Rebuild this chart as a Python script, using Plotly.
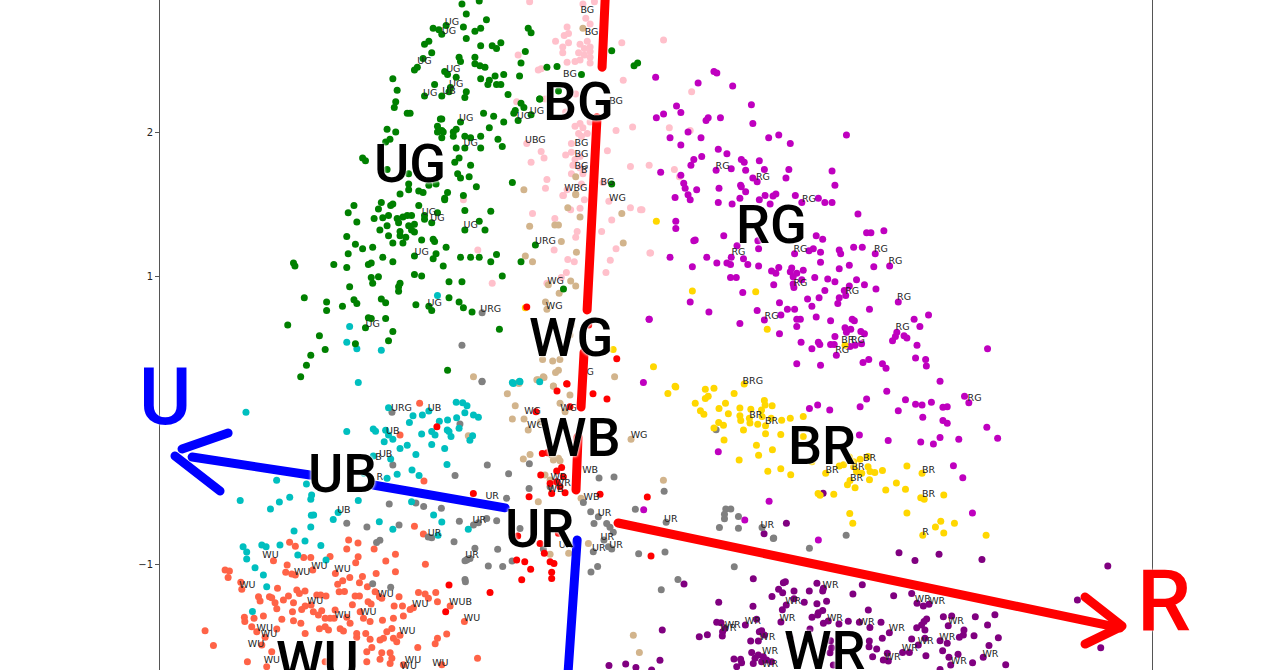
import plotly.graph_objects as go

UG = [(-0.82,2.89),(-0.70,2.91),(-0.79,2.82),(-0.65,2.78),(-0.93,2.74),(-1.02,2.72),(-0.98,2.71),(-0.96,2.68),(-0.81,2.73),(-0.73,2.70),(-0.69,2.72),(-0.79,2.65),(-1.05,2.63),(-1.08,2.61),(-0.69,2.60),(-0.61,2.60),(-0.58,2.58),(-0.55,2.62),(-0.36,2.72),(-0.34,2.69),(-0.38,2.56),(-0.41,2.48),(-0.42,2.39),(-0.23,2.45),(-1.03,2.55),(-1.09,2.51),(-0.84,2.52),(-0.83,2.49),(-0.73,2.52),(-0.73,2.475),(-0.695,2.46),(-0.66,2.45),(-1.13,2.45),(-1.15,2.43),(-0.94,2.42),(-0.92,2.40),(-0.86,2.38),(-0.69,2.37),(-0.59,2.39),(-0.53,2.40),(-0.63,2.36),(-0.64,2.33),(-0.58,2.33),(-0.55,2.33),(-0.50,2.26),(-1.30,2.37),(-1.27,2.29),(-1.01,2.33),(-0.90,2.31),(-0.91,2.28),(-0.79,2.28),(-0.80,2.24),(-1.08,2.25),(-0.96,2.25),(-1.28,2.21),(-1.29,2.17),(-1.20,2.13),(-1.18,2.13),(-0.28,2.23),(-0.41,2.20),(-0.39,2.17),(-0.45,2.15),(-0.46,2.13),(-0.43,2.08),(-0.34,2.12),(-0.67,2.13),(-0.60,2.11),(-0.53,2.07),(-0.63,2.03),(-0.97,2.09),(-0.96,2.09),(-0.83,2.07),(-1.34,2.02),(-1.28,2.00),(-0.99,2.04),(-0.96,2.01),(-0.86,2.02),(-0.88,2.00),(-0.99,2.00),(-0.95,2.00),(-0.80,1.97),(-0.76,1.96),(-0.69,1.97),(-0.57,1.95),(-0.96,1.96),(-0.88,1.97),(-1.32,1.95),(-1.35,1.93),(-0.54,1.90),(-0.69,1.89),(-0.86,1.89),(-0.80,1.89),(-1.51,1.82),(-1.49,1.80),(-0.84,1.82),(-0.87,1.79),(-0.76,1.77),(-1.34,1.74),(-0.85,1.71),(-0.83,1.68),(-0.77,1.69),(-1.19,1.71),(-0.72,1.62),(-0.47,1.65),(-1.05,1.63),(-1.00,1.64),(-1.19,1.64),(-1.19,1.60),(-1.12,1.59),(-1.09,1.58),(-1.25,1.57),(-0.92,1.58),(-0.81,1.56),(-0.94,1.54),(-1.57,1.49),(-1.61,1.44),(-1.55,1.375),(-1.38,1.51),(-1.40,1.465),(-1.30,1.50),(-1.315,1.49),(-1.43,1.40),(-1.37,1.405),(-1.33,1.42),(-1.27,1.40),(-1.26,1.37),(-1.23,1.41),(-1.20,1.42),(-1.17,1.42),(-1.12,1.49),(-1.08,1.42),(-1.08,1.395),(-1.03,1.37),(-0.99,1.44),(-1.34,1.35),(-1.39,1.32),(-1.19,1.35),(-1.15,1.36),(-1.17,1.32),(-1.15,1.305),(-1.25,1.31),(-1.25,1.28),(-1.21,1.27),(-1.33,1.28),(-1.62,1.275),(-1.56,1.22),(-1.51,1.19),(-1.44,1.20),(-1.30,1.23),(-1.23,1.23),(-1.10,1.25),(-1.02,1.255),(-1.01,1.24),(-0.93,1.20),(-1.61,1.155),(-1.37,1.13),(-1.30,1.10),(-1.15,1.14),(-1.00,1.155),(-1.02,1.12),(-0.95,1.07),(-1.71,1.08),(-1.99,1.09),(-1.98,1.07),(-1.62,1.06),(-1.47,1.08),(-1.45,1.09),(-0.83,1.13),(-0.76,1.13),(-0.70,1.13),(-0.62,1.10),(-0.58,1.15),(-0.41,1.10),(-0.54,1.00),(-1.15,1.01),(-1.10,1.00),(-1.45,0.99),(-1.40,0.995),(-1.44,0.95),(-1.25,0.95),(-1.26,0.925),(-1.26,0.895),(-1.60,0.925),(-0.91,0.96),(-0.82,0.96),(-1.915,0.85),(-1.76,0.82),(-1.76,0.76),(-1.65,0.79),(-1.57,0.835),(-1.55,0.81),(-1.38,0.84),(-1.35,0.815),(-1.14,0.80),(-1.05,0.79),(-1.03,0.76),(-0.91,0.85),(-0.84,0.82),(-0.81,0.78),(-0.75,0.75),(-1.47,0.71),(-1.45,0.705),(-1.35,0.705),(-1.49,0.64),(-2.03,0.66),(-1.30,0.615),(-1.81,0.585),(-1.33,0.55),(-1.56,0.53),(-1.77,0.49),(-1.87,0.45),(-1.90,0.38),(-1.94,0.30),(-0.92,0.345),(-0.56,0.63),(-0.80,1.455),(-0.62,1.45),(-0.70,1.38),(-0.80,1.32),(-0.66,1.32),(-0.94,1.53),(-0.31,1.215),(0.375,2.46),(0.40,2.48),(0.22,2.565),(0.01,2.40),(-0.16,2.456),(-0.28,2.23),(0.22,1.64),(-0.15,2.285),(-0.115,0.91)]

BG = [(-0.35,2.905),(0.02,2.89),(0.10,2.905),(0.04,2.79),(0.07,2.75),(-0.09,2.73),(-0.08,2.685),(-0.11,2.67),(-0.17,2.63),(-0.08,2.62),(0,2.61),(-0.12,2.59),(0.05,2.63),(0.07,2.59),(0.03,2.58),(-0.12,2.55),(-0.01,2.55),(0.03,2.535),(0.07,2.52),(0.07,2.56),(0,2.50),(-0.035,2.49),(-0.09,2.485),(0.07,2.48),(-0.27,2.44),(-0.29,2.43),(-0.03,2.265),(-0.43,2.535),(0.29,2.62),(0.58,2.64),(0.30,2.36),(-0.44,2.21),(-0.24,2.23),(-0.10,2.14),(0,2.06),(-0.035,2.04),(0.02,2.03),(0.07,2.07),(-0.01,1.99),(0.01,1.97),(0.05,1.99),(-0.06,1.92),(0.365,2.035),(0.25,2.01),(-0.37,1.92),(-0.27,1.865),(-0.25,1.82),(-0.34,1.79),(-0.10,1.84),(-0.06,1.86),(-0.035,1.81),(0,1.83),(0.19,1.87),(-0.05,1.77),(0,1.75),(0.02,1.71),(0.35,1.76),(-0.06,1.71),(-0.23,1.67),(-0.24,1.61),(-0.12,1.56),(-0.09,1.60),(0.16,1.65),(0.01,1.64),(-0.81,1.53),(-0.33,1.435),(-0.71,1.18),(-0.61,0.95),(-0.23,0.95),(-0.115,1.56),(-0.065,1.46),(0,1.47),(0.03,1.53),(0.20,1.52),(0.35,1.475),(0.42,1.46),(0.22,1.39),(-0.175,1.40),(-0.02,1.31),(-0.03,1.27),(0.15,1.31),(-0.18,1.18),(0.25,1.19),(-0.085,1.115),(-0.04,1.10),(0.21,1.11),(-0.095,1.025),(0.18,1.025),(-0.13,0.99),(0.775,2.28),(0.62,2.03),(0.765,2.01),(0.48,1.77),(0.655,1.74),(0.69,1.69),(0.43,1.46),(0.485,1.16),(0.49,1.16)]

RG = [(0.525,2.38),(0.93,2.42),(0.95,2.41),(0.82,2.34),(1.06,2.32),(1.19,2.19),(1.20,2.06),(0.67,2.18),(0.58,2.125),(0.70,2.135),(0.53,2.10),(0.875,2.08),(0.89,2.10),(0.975,2.10),(0.75,2.00),(0.625,1.96),(0.84,1.96),(0.70,1.91),(1.31,1.96),(1.38,1.98),(1.46,1.92),(1.85,1.98),(0.96,1.88),(1.02,1.85),(0.845,1.83),(0.79,1.81),(0.77,1.77),(1.12,1.81),(1.14,1.79),(1.245,1.80),(1.28,1.74),(1.45,1.74),(1.75,1.73),(0.945,1.735),(1.05,1.745),(1.15,1.735),(0.56,1.72),(0.70,1.70),(1.20,1.68),(1.23,1.655),(1.43,1.68),(1.77,1.63),(0.72,1.645),(0.73,1.61),(0.81,1.60),(0.965,1.61),(1.115,1.63),(1.12,1.62),(1.15,1.585),(0.75,1.565),(0.66,1.545),(0.765,1.53),(1.11,1.54),(1.285,1.56),(1.34,1.555),(1.36,1.57),(1.495,1.56),(0.96,1.51),(1.056,1.50),(1.245,1.53),(1.32,1.50),(1.54,1.51),(1.655,1.54),(1.70,1.51),(1.75,1.51),(1.93,1.43),(0.665,1.38),(0.665,1.33),(0.998,1.28),(0.80,1.25),(0.79,1.245),(1.09,1.21),(1.235,1.245),(1.24,1.19),(1.64,1.28),(1.685,1.255),(1.99,1.30),(2.02,1.30),(2.11,1.315),(1.49,1.155),(1.59,1.175),(1.62,1.19),(1.67,1.165),(1.80,1.18),(1.81,1.155),(1.90,1.20),(1.96,1.20),(2.05,1.155),(2.15,1.07),(0.625,1.13),(0.88,1.13),(0.95,1.09),(1.02,1.09),(1.045,1.08),(1.05,1.13),(1.135,1.12),(1.165,1.08),(0.78,1.065),(1.24,1.07),(1.33,1.035),(1.36,1.02),(1.38,1.06),(1.47,1.055),(1.46,1.03),(1.48,0.995),(1.505,1.02),(1.55,1.04),(1.67,1.095),(1.80,1.05),(1.87,1.075),(2.04,1.065),(1.045,0.99),(1.085,0.99),(1.63,0.99),(1.72,0.98),(1.77,0.96),(1.92,0.975),(1.54,0.975),(1.345,0.94),(1.48,0.945),(1.485,0.92),(1.70,0.90),(1.87,0.93),(1.975,0.94),(2.055,0.91),(1.835,0.90),(1.845,0.865),(1.13,0.885),(1.58,0.84),(1.66,0.85),(1.80,0.85),(1.79,0.81),(2.21,0.82),(0.765,0.82),(1.385,0.815),(1.61,0.79),(2.01,0.77),(0.895,0.75),(1.23,0.76),(1.44,0.77),(1.49,0.77),(1.395,0.73),(2.42,0.73),(0.48,0.70),(1.28,0.695),(1.505,0.70),(1.53,0.70),(1.64,0.715),(1.74,0.69),(1.89,0.70),(1.905,0.69),(2.32,0.70),(1.11,0.67),(1.505,0.65),(1.84,0.64),(2.36,0.65),(1.85,0.61),(1.88,0.63),(1.95,0.615),(1.975,0.60),(2.20,0.61),(1.385,0.60),(1.77,0.58),(2.19,0.58),(2.25,0.585),(2.27,0.57),(2.17,0.55),(1.535,0.54),(1.655,0.54),(1.665,0.525),(1.74,0.525),(1.765,0.525),(1.875,0.51),(1.91,0.52),(1.955,0.53),(2.34,0.52),(1.61,0.495),(2.83,0.495),(1.78,0.45),(2.005,0.42),(1.965,0.40),(2.33,0.43),(2.40,0.42),(1.505,0.39),(1.67,0.38),(2.10,0.39),(2.125,0.36),(2.405,0.375),(0.48,0.70),(0.44,0.26),(2.50,0.27),(2.13,0.20),(2.67,0.165),(2.70,0.12),(2.26,0.14),(1.99,0.146),(2.33,0.109),(2.375,0.105),(2.44,0.123),(1.65,0.105),(1.593,0.08),(1.734,0.07),(1.945,0.093),(2.21,0.065),(2.52,0.088),(2.55,0.093),(2.38,0.02),(2.52,-0.004),(2.55,-0.023),(2.825,-0.05),(1.94,-0.104),(2.14,-0.143),(2.366,-0.152),(2.50,-0.122),(2.454,-0.166),(2.63,-0.134),(2.90,-0.127),(0.96,-0.22),(2.593,-0.317),(2.658,-0.40),(2.725,-0.645),(1.313,-0.564),(1.144,-0.694),(1.655,-0.833),(0.442,-0.623)]

BR = [(0.66,0.234),(0.61,0.185),(0.87,0.213),(0.93,0.22),(0.89,0.165),(0.87,0.15),(1.07,0.185),(1.14,0.25),(0.80,0.116),(1.01,0.116),(0.965,0.08),(1.11,0.084),(0.836,0.065),(0.86,0.04),(1.03,0.044),(1.186,0.074),(1.28,0.135),(1.285,0.105),(1.334,0.10),(1.26,0.07),(1.11,0.03),(1.116,-0.004),(1.176,0.012),(1.18,-0.02),(1.234,-0.03),(1.264,0.024),(1.327,0.012),(1.40,-0.002),(1.46,0.012),(1.55,0.024),(0.963,-0.018),(0.996,-0.037),(0.93,-0.055),(1.135,-0.069),(1.288,-0.04),(1.288,-0.095),(1.394,-0.10),(1.0,-0.139),(1.225,-0.175),(1.336,-0.206),(1.24,-0.245),(1.105,-0.277),(1.304,-0.356),(1.394,-0.338),(1.463,-0.38),(1.55,-0.115),(1.61,-0.29),(1.706,-0.37),(1.80,-0.32),(1.83,-0.31),(1.87,-0.256),(1.90,-0.29),(1.945,-0.273),(2.0,-0.254),(1.90,-0.324),(1.92,-0.358),(1.956,-0.37),(2.0,-0.324),(2.014,-0.358),(2.047,-0.365),(2.10,-0.35),(2.01,-0.414),(1.875,-0.42),(1.857,-0.45),(1.91,-0.47),(2.27,-0.32),(2.375,-0.37),(2.197,-0.437),(2.26,-0.48),(2.123,-0.486),(1.762,-0.516),(1.653,-0.51),(1.667,-0.523),(2.366,-0.54),(2.39,-0.55),(2.526,-0.52),(2.27,-0.645),(1.873,-0.65),(1.894,-0.717),(2.505,-0.703),(2.468,-0.743),(2.60,-0.717),(2.526,-0.784),(2.38,-0.80),(2.82,-0.80),(0.53,1.38),(0.23,0.49),(0.51,0.37),(0.665,0.23),(0.78,0.896),(1.22,0.89),(1.30,0.63),(1.84,0.52),(-0.38,0.78)]

WG = [(0.02,2.72),(-0.03,1.69),(-0.03,1.57),(-0.39,1.60),(-0.35,1.345),(-0.38,1.14),(-0.33,1.10),(-0.24,0.82),(-0.23,0.77),(-0.22,0.94),(-0.74,0.30),(-0.26,0.42),(-0.29,0.28),(-0.25,0.296),(-0.43,0.26),(-0.03,1.565),(-0.085,1.475),(0,1.41),(-0.175,1.355),(-0.15,1.355),(-0.13,1.24),(-0.025,1.165),(0.29,1.435),(0.30,1.23),(-0.065,0.965),(-0.03,0.93),(-0.145,0.88),(-0.19,0.41),(-0.14,0.42),(-0.15,0.345),(-0.17,0.33),(-0.255,0.30),(-0.30,0.28),(0.24,0.30),(-0.185,0.235),(-0.06,0.66),(-0.07,0.59),(-0.505,0.183),(-0.424,0.254),(-0.45,0.10),(-0.47,0.007),(-0.389,0.007),(-0.36,-0.07),(-0.185,0.236),(-0.139,0.116),(-0.07,0.173),(-0.104,0.058),(-0.273,-0.012),(-0.347,-0.239),(-0.394,-0.271),(-0.197,-0.243),(-0.15,-0.266),(-0.185,-0.278),(-0.139,-0.283),(-0.243,-0.382),(-0.208,-0.417),(0.354,-0.134),(0.579,-0.419),(-0.776,-0.11),(0.007,-0.544),(0.058,-0.857),(-0.208,-0.933),(-0.079,-0.926),(-0.29,-0.567),(0.37,-1.495),(0.412,-1.614)]

UB = [(-0.99,0.865),(-1.60,0.65),(-1.62,0.54),(-1.55,0.495),(-1.38,0.485),(-1.54,0.26),(-0.47,0.26),(-0.42,0.27),(-0.28,0.265),(-2.32,0.054),(-1.62,-0.08),(-1.33,0.086),(-1.436,-0.062),(-1.42,-0.078),(-1.35,-0.071),(-1.33,-0.104),(-1.30,-0.134),(-1.36,-0.15),(-1.16,0.03),(-1.185,-0.018),(-1.095,0.035),(-1.05,0.063),(-0.977,-0.009),(-0.92,0.0),(-0.86,0.123),(-0.815,0.12),(-0.785,0.10),(-0.80,0.05),(-0.74,0.035),(-0.857,0.016),(-0.84,-0.057),(-1.10,-0.097),(-1.03,-0.08),(-1.007,-0.104),(-0.922,-0.069),(-0.896,-0.115),(-0.91,-0.08),(-0.746,-0.11),(-0.765,-0.14),(-0.706,0.02),(-1.20,-0.176),(-1.25,-0.197),(-1.03,-0.17),(-0.94,-0.197),(-1.14,-0.24),(-1.436,-0.25),(-1.315,-0.27),(-0.924,-0.308),(-1.167,-0.347),(-1.118,-0.386),(-1.27,-0.377),(-1.50,-0.37),(-2.107,-0.419),(-1.90,-0.444),(-1.864,-0.52),(-1.87,-0.55),(-2.016,-0.537),(-2.088,-0.569),(-2.15,-0.618),(-2.36,-0.558),(-1.54,-0.558),(-1.68,-0.643),(-1.714,-0.69),(-1.85,-0.66),(-1.866,-0.662),(-1.87,-0.743),(-1.986,-0.77),(-1.91,-0.84),(-2.084,-0.868),(-1.80,-0.872),(-2.21,-0.868),(-2.18,-0.88),(-2.34,-0.88),(-1.394,-0.706),(-1.30,-0.759),(-1.017,-0.66),(-0.96,-0.708),(-0.776,-0.759),(-1.17,-0.567),(-1.34,-0.405),(-0.463,0.254),(-0.417,0.266),(-2.315,-0.917),(-2.315,-0.965),(-1.96,-0.938),(-1.764,-0.972),(-2.257,-1.026),(-2.199,-1.076),(-2.176,-1.157),(-2.275,-1.329),(-0.986,-0.80)]

UR = [(-0.68,0.745),(-0.82,0.52),(-0.68,0.27),(0.584,-0.495),(1.012,-0.618),(1.047,-0.618),(1.003,-0.655),(1.003,-0.685),(1.10,-0.67),(0.968,-0.747),(1.10,-0.752),(1.264,-0.747),(1.345,-0.82),(1.848,-0.80),(1.593,-0.89),(0.598,-0.71),(0.945,-0.067),(-1.306,0.054),(-0.834,-0.027),(-1.30,-0.312),(-0.868,-0.386),(-1.325,-0.583),(-1.14,-0.576),(-1.086,-0.60),(-0.963,-0.613),(-0.838,-0.703),(-0.74,-0.729),(-1.62,-0.717),(-1.48,-0.743),(-1.257,-0.729),(-1.054,-0.812),(-1.03,-0.817),(-0.875,-0.845),(-0.73,-0.89),(-1.413,-0.85),(-1.39,-0.835),(-0.681,0.266),(-0.352,-0.303),(-0.644,-0.313),(-0.496,-0.373),(-0.354,-0.475),(0.132,-0.403),(0.236,-0.396),(-0.208,-0.463),(0.023,-0.572),(0.074,-0.637),(0.127,-0.672),(0.097,-0.718),(0.185,-0.718),(0.208,-0.745),(0.231,-0.78),(0.166,-0.834),(0.22,-0.896),(0.092,-0.915),(0.197,-0.88),(0.407,-0.929),(0.59,-0.917),(-0.648,-0.683),(-0.706,-0.713),(-0.579,-0.70),(-0.51,-0.544),(-0.417,-0.753),(-0.799,-0.977),(-0.783,-0.966),(-0.637,-1.014),(-0.537,-1.018),(-0.472,-0.979),(-0.572,-0.898),(-0.255,-0.896),(0.122,-1.018),(0.076,-1.056),(0.384,-0.62),(-0.799,-1.107),(-0.787,-0.972),(-0.764,-0.961),(-1.44,-1.137),(-1.315,-1.162),(-0.796,-1.123),(1.342,-0.822),(1.071,-1.019),(0.68,-1.107),(0.564,-1.178)]

WB = [(-0.37,0.785),(0.255,0.425),(-0.09,0.25),(0.06,0.66),(-0.994,-0.046),(-0.093,0.252),(-0.16,0.201),(0.09,0.183),(0.187,0.146),(-0.306,0.058),(-0.07,0.092),(-0.262,-0.232),(-0.227,-0.227),(-0.128,-0.329),(-0.162,-0.354),(-0.273,-0.382),(-0.116,-0.394),(-0.162,-0.428),(-0.208,-0.44),(-0.139,-0.463),(-0.104,-0.505),(-0.197,-0.51),(-0.354,-0.533),(0.139,-0.516),(0.467,-0.535),(0.493,-0.945),(-0.433,-0.806),(-0.278,-0.857),(-0.248,-0.926),(-0.384,-0.984),(-0.44,-0.972),(-0.208,-0.984),(-0.181,-0.997),(-0.343,-1.037),(-0.197,-1.058),(-0.197,-1.10),(-0.405,-1.11),(-0.15,-0.787),(-0.741,-0.51),(-0.91,-1.146),(-0.933,-1.331),(-0.625,-1.197)]

WU = [(-1.114,0.116),(-1.25,-0.104),(-1.084,-0.423),(-1.15,-0.738),(-1.088,-0.791),(-1.607,-0.833),(-1.542,-0.854),(-2.017,-0.849),(-1.977,-0.877),(-1.62,-0.895),(-1.43,-0.895),(-1.282,-0.933),(-1.349,-0.979),(-1.541,-0.949),(-1.558,-0.991),(-1.736,-0.947),(-1.919,-0.954),(-1.87,-0.954),(-2.129,-0.977),(-1.074,-1.002),(-2.034,-1.007),(-1.856,-1.042),(-2.465,-1.042),(-2.435,-1.049),(-2.444,-1.093),(-2.044,-1.058),(-2.002,-1.07),(-1.977,-1.077),(-1.699,-1.065),(-1.599,-1.093),(-1.511,-1.086),(-1.416,-1.065),(-1.282,-1.053),(-1.648,-1.116),(-1.683,-1.141),(-1.532,-1.13),(-2.356,-1.127),(-2.349,-1.176),(-2.101,-1.169),(-1.967,-1.181),(-1.91,-1.188),(-1.949,-1.204),(-1.673,-1.192),(-1.636,-1.19),(-1.477,-1.157),(-1.423,-1.192),(-1.393,-1.227),(-1.122,-1.197),(-1.076,-1.208),(-1.002,-1.197),(-1.053,-1.238),(-0.99,-1.262),(-1.257,-1.227),(-0.902,-1.292),(-2.233,-1.227),(-2.222,-1.257),(-2.157,-1.227),(-2.141,-1.234),(-2.118,-1.269),(-2.06,-1.25),(-2.025,-1.222),(-1.99,-1.269),(-1.828,-1.215),(-1.801,-1.215),(-1.764,-1.222),(-1.562,-1.222),(-1.532,-1.222),(-1.581,-1.283),(-1.472,-1.262),(-1.451,-1.278),(-1.377,-1.238),(-1.291,-1.292),(-1.233,-1.292),(-2.106,-1.31),(-1.997,-1.331),(-1.909,-1.292),(-1.933,-1.315),(-1.868,-1.285),(-1.852,-1.331),(-1.794,-1.324),(-1.817,-1.354),(-1.77,-1.377),(-1.701,-1.32),(-1.708,-1.377),(-1.62,-1.37),(-1.527,-1.331),(-1.504,-1.377),(-1.458,-1.4),(-2.199,-1.361),(-2.264,-1.377),(-2.331,-1.37),(-2.328,-1.4),(-2.071,-1.384),(-1.99,-1.394),(-1.939,-1.412),(-1.736,-1.377),(-1.597,-1.412),(-1.372,-1.391),(-1.296,-1.377),(-1.18,-1.315),(-1.157,-1.303),(-1.227,-1.361),(-2.604,-1.463),(-2.28,-1.435),(-2.245,-1.47),(-2.106,-1.451),(-1.909,-1.482),(-1.81,-1.449),(-1.77,-1.435),(-1.747,-1.458),(-1.666,-1.449),(-1.643,-1.465),(-1.551,-1.482),(-1.488,-1.482),(-1.307,-1.447),(-1.342,-1.47),(-1.365,-1.516),(-1.389,-1.528),(-1.296,-1.516),(-1.25,-1.495),(-1.273,-1.54),(-1.458,-1.523),(-1.551,-1.509),(-0.99,-1.516),(-1.006,-1.553),(-0.926,-1.486),(-0.803,-1.4),(-2.546,-1.565),(-2.187,-1.509),(-2.21,-1.563),(-2.141,-1.609),(-2.31,-1.678),(-1.127,-1.579),(-1.446,-1.579),(-1.481,-1.609),(-1.377,-1.616),(-1.319,-1.616),(-1.307,-1.655),(-1.389,-1.662),(-1.319,-1.69),(-1.481,-1.678),(-1.77,-1.678),(-2.176,-1.713),(-0.712,-1.655),(-1.227,-1.7),(-0.96,-1.7)]

WR = [(1.688,-0.509),(1.433,-0.717),(1.278,-0.79),(2.215,-0.921),(2.326,-0.975),(2.493,-0.933),(2.791,-0.968),(1.203,-1.102),(0.722,-1.139),(1.412,-1.13),(1.426,-1.123),(1.379,-1.176),(1.407,-1.199),(1.486,-1.188),(1.592,-1.188),(1.645,-1.134),(1.685,-1.188),(1.69,-1.169),(1.96,-1.144),(1.895,-1.208),(2.178,-1.22),(2.303,-1.204),(1.333,-1.225),(1.486,-1.241),(1.557,-1.266),(1.645,-1.276),(1.712,-1.259),(0.963,-1.266),(1.201,-1.294),(1.432,-1.285),(1.405,-1.317),(1.655,-1.338),(1.685,-1.322),(1.65,-1.354),(2.002,-1.32),(2.34,-1.273),(2.384,-1.292),(2.423,-1.28),(2.881,-1.352),(2.523,-1.366),(2.581,-1.361),(2.745,-1.366),(2.407,-1.382),(2.389,-1.4),(2.557,-1.428),(2.83,-1.424),(1.611,-1.37),(1.724,-1.396),(1.69,-1.412),(1.798,-1.417),(1.863,-1.398),(1.94,-1.405),(2.013,-1.44),(2.09,-1.405),(2.148,-1.477),(2.338,-1.442),(2.372,-1.424),(2.395,-1.458),(2.666,-1.458),(2.662,-1.493),(2.634,-1.509),(2.736,-1.498),(2.905,-1.512),(0.949,-1.405),(0.979,-1.408),(1.226,-1.384),(1.148,-1.424),(1.395,-1.403),(1.597,-1.452),(0.571,-1.458),(1.006,-1.447),(0.99,-1.47),(0.988,-1.5),(0.884,-1.491),(0.828,-1.505),(1.245,-1.47),(1.261,-1.463),(1.28,-1.493),(1.185,-1.535),(1.238,-1.535),(1.458,-1.509),(1.74,-1.533),(2.009,-1.535),(2.099,-1.516),(2.303,-1.521),(2.395,-1.516),(2.349,-1.563),(2.5,-1.533),(2.55,-1.551),(2.84,-1.565),(1.192,-1.614),(1.238,-1.632),(1.215,-1.655),(1.273,-1.644),(1.296,-1.667),(1.261,-1.678),(1.203,-1.69),(1.33,-1.678),(1.069,-1.66),(1.115,-1.662),(1.122,-1.685),(1.088,-1.713),(0.555,-1.669),(0.201,-1.704),(0.317,-1.695),(0.388,-1.718),(0.497,-1.736),(1.747,-1.581),(1.736,-1.616),(1.759,-1.701),(2.007,-1.574),(2.06,-1.59),(2.032,-1.644),(2.106,-1.667),(2.134,-1.62),(2.141,-1.674),(2.24,-1.614),(2.287,-1.614),(2.402,-1.637),(2.518,-1.602),(2.562,-1.648),(2.625,-1.627),(2.574,-1.701),(2.726,-1.685),(2.8,-1.648),(2.956,-1.699),(2.5,-1.732),(3.665,-1.014),(3.454,-1.25),(3.616,-1.581)]

COLOURS = {"UG":"#008000","BG":"#FFC0CB","RG":"#BF00BF","BR":"#FFD700","WG":"#D2B48C","UB":"#00BFBF","UR":"#808080","WB":"#FF0000","WU":"#FF6347","WR":"#800080"}
GROUPS = {"UG":UG,"BG":BG,"RG":RG,"BR":BR,"WG":WG,"UB":UB,"UR":UR,"WB":WB,"WU":WU,"WR":WR}
ORDER = ["BG","WG","RG","WU","WR","UR","UB","BR","UG","WB"]

LABELS = [("UG",-0.89,2.76),("UG",-0.91,2.70),("UG",-1.08,2.49),("UG",-0.88,2.43),("UG",-0.86,2.33),("UG",-1.04,2.27),("UB",-0.91,2.28),("UG",-0.79,2.09),("UG",-0.76,1.92),("UG",-1.05,1.44),("UG",-0.99,1.40),("UG",-0.76,1.35),("UG",-1.10,1.16),("UG",-1.01,0.81),("UG",-1.44,0.66),("UG",-0.39,2.11),("UG",-0.30,2.14),("UBG",-0.31,1.94),("URG",-0.24,1.24),("URG",-0.62,0.77),("URG",-1.24,0.08),
("BG",0.05,2.84),("BG",0.08,2.69),("BG",-0.07,2.40),("BG",0.25,2.21),("BG",0.01,1.92),("BG",0.01,1.84),("BG",0.01,1.76),("B",0.03,1.73),("BG",0.19,1.65),("WBG",-0.03,1.61),("WG",0.26,1.54),("WG",-0.17,0.96),("WG",-0.18,0.79),("WG",-0.33,0.06),("WG",-0.31,-0.04),("WG",0.41,-0.11),("WG",-0.08,0.08),("G",0.07,0.33),
("RG",0.99,1.76),("RG",1.27,1.68),("RG",1.59,1.53),("RG",1.10,1.16),("RG",1.53,1.18),("RG",2.09,1.18),("RG",2.19,1.10),("RG",1.53,0.95),("RG",1.89,0.89),("RG",2.25,0.85),("RG",1.33,0.72),("RG",2.24,0.64),("RG",1.93,0.55),("RG",1.82,0.48),("RG",2.74,0.146),("BR",1.86,0.55),("BRG",1.20,0.27),
("BR",1.22,0.03),("BR",1.33,-0.01),("BR",2.01,-0.27),("BR",1.93,-0.33),("BR",1.75,-0.35),("BR",1.92,-0.41),("BR",2.42,-0.35),("BR",2.42,-0.52),("R",2.40,-0.78),
("UR",-0.61,-0.53),("UR",-0.70,-0.70),("UR",-0.75,-0.94),("UR",-1.01,-0.79),("UR",0.17,-0.65),("UR",0.19,-0.82),("UR",0.13,-0.89),("UR",0.25,-0.87),("UR",0.63,-0.69),("UR",1.30,-0.73),("UR",-0.10,-0.87),
("WB",0.07,-0.35),("WB",0.08,-0.54),("WB",-0.15,-0.40),("WB",-0.17,-0.48),("WR",-0.12,-0.44),
("UB",-1.01,0.08),("UB",-1.30,-0.08),("UB",-1.35,-0.24),("B",-1.40,-0.26),("UB",-1.64,-0.63),("R",-1.39,-0.40),
("WU",-2.15,-0.94),("WU",-1.93,-1.06),("WU",-1.81,-1.02),("WU",-1.65,-1.04),("WU",-2.31,-1.15),("WU",-1.84,-1.26),("WU",-1.35,-1.21),("WU",-1.11,-1.28),("WU",-1.65,-1.36),("WU",-1.47,-1.34),("WU",-0.75,-1.38),("WU",-1.20,-1.47),("WU",-2.19,-1.45),("WU",-2.16,-1.49),("WU",-2.25,-1.56),("WU",-1.16,-1.67),("WU",-0.97,-1.69),("WU",-1.19,-1.71),("WU",-2.14,-1.67),("WUB",-0.83,-1.27),
("WR",1.74,-1.15),("WR",1.48,-1.26),("WR",2.38,-1.25),("WR",2.48,-1.26),("WR",1.06,-1.43),("WR",1.03,-1.45),("WR",1.20,-1.40),("WR",1.44,-1.38),("WR",1.77,-1.38),("WR",1.99,-1.41),("WR",2.20,-1.45),("WR",2.61,-1.40),("WR",2.55,-1.51),("WR",2.40,-1.54),("WR",2.29,-1.59),("WR",2.17,-1.65),("WR",2.85,-1.63),("WR",2.63,-1.68),("WR",1.30,-1.51),("WR",1.32,-1.61),("WR",1.32,-1.70)]

RED_AXIS_X = [0.174,0.153,None,0.118,0.09,0.049,None,0.028,0.014,0.007,None,-0.014,-0.028]
RED_AXIS_Y = [2.917,2.45,None,2.10,1.597,0.764,None,0.47,0.208,0.09,None,-0.118,-0.486]
RED_ARROW_X = [0.264,3.75,None,3.507,3.764,3.507]
RED_ARROW_Y = [-0.715,-1.444,None,-1.229,-1.431,-1.556]
BLUE_AXIS_X = [-0.02,-0.083,None,-2.694,-1.875,None,-1.4375,-0.903,-0.52]
BLUE_AXIS_Y = [-0.833,-1.75,None,-0.257,-0.382,None,-0.451,-0.535,-0.61]
BLUE_HEAD_X = [-2.444,-2.764,None,-2.813,-2.5]
BLUE_HEAD_Y = [-0.09,-0.201,None,-0.25,-0.493]

HAND = [("UG",-1.18,1.78),("BG",-0.01,2.21),("RG",1.33,1.36),("WG",-0.06,0.57),("WB",0.0,-0.12),("BR",1.68,-0.18),("UR",-0.28,-0.75),("UB",-1.65,-0.37),("WU",-1.82,-1.67),("WR",1.70,-1.60)]
BIG_U = ("U",-2.88,0.16,"#0000FF")
BIG_R = ("R",1.012,0.104,"#FF0000")
Y_TICKS = [-1,1,2]

fig = go.Figure()
for name in ORDER:
    pts = GROUPS[name]
    fig.add_trace(go.Scatter(x=[p[0] for p in pts], y=[p[1] for p in pts], mode="markers", name=name,
                             marker=dict(color=COLOURS[name], size=7, line=dict(width=0))))
fig.add_trace(go.Scatter(x=[l[1] for l in LABELS], y=[l[2] for l in LABELS], text=[l[0] for l in LABELS],
                         mode="text", textfont=dict(family="DejaVu Sans", size=9.5, color="#222"), textposition="middle center"))
for xs, ys, c, w in [(RED_AXIS_X,RED_AXIS_Y,"#FF0000",9),(RED_ARROW_X,RED_ARROW_Y,"#FF0000",9),(BLUE_AXIS_X,BLUE_AXIS_Y,"#0000FF",9),(BLUE_HEAD_X,BLUE_HEAD_Y,"#0000FF",9)]:
    fig.add_trace(go.Scatter(x=xs, y=ys, mode="lines", line=dict(color=c, width=w), connectgaps=False))

for t, x, y in HAND:
    fig.add_annotation(x=x, y=y, text=t, showarrow=False, xanchor="center", yanchor="middle",
                       font=dict(family="Roboto", size=54, color="black", weight=500,
                                 shadow="0 0 3px white, 0 0 3px white"))
fig.add_annotation(x=BIG_U[1], y=BIG_U[2], text=BIG_U[0], showarrow=False, xanchor="center", yanchor="middle",
                   font=dict(family="Roboto", size=80, color=BIG_U[3], weight=500, shadow="0 0 3px white"))
fig.add_annotation(x=BIG_R[1], y=BIG_R[2], xref="paper", yref="paper", text=BIG_R[0], showarrow=False,
                   xanchor="center", yanchor="middle",
                   font=dict(family="Roboto", size=86, color=BIG_R[3], weight=500, shadow="0 0 3px white"))

fig.update_layout(width=1280, height=670, margin=dict(l=160, r=128, t=0, b=0), showlegend=False,
                  plot_bgcolor="white", paper_bgcolor="white", font=dict(family="DejaVu Sans", size=10, color="#222"))
fig.update_xaxes(range=[-2.917, 3.972], showgrid=False, zeroline=False, showticklabels=False, ticks="", showline=False)
fig.update_yaxes(range=[-1.736, 2.917], showgrid=False, zeroline=False, showline=True, linecolor="#555", linewidth=1,
                 mirror=True, ticks="outside", ticklen=4, tickcolor="#555", tickvals=Y_TICKS,
                 ticktext=["\u22121","1","2"], tickfont=dict(size=10))
POST = ("document.body.style.margin='0';"
        "document.querySelectorAll('.js-line').forEach(function(p){p.style.strokeLinecap='round';p.style.strokeLinejoin='round';});")
fig.write_html("out.html", config={"displayModeBar": False}, post_script=POST)
